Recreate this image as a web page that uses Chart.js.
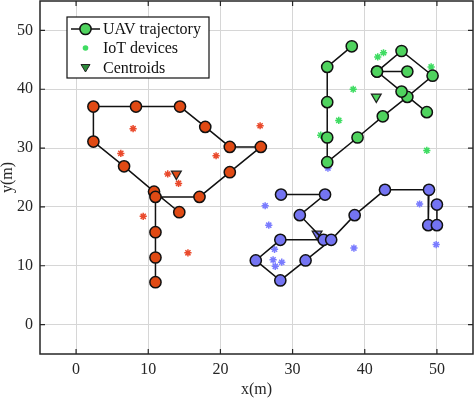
<!DOCTYPE html>
<html>
<head>
<meta charset="utf-8">
<script src="https://cdn.jsdelivr.net/npm/chart.js@4/dist/chart.umd.min.js"></script>
<style>
  html, body { margin: 0; padding: 0; background: #fff; }
  #grafico { display: block; }
</style>
</head>
<body>
<canvas id="grafico" width="474" height="399"></canvas>
<script>
// tick values
const xTicks = [0, 10, 20, 30, 40, 50];
const yTicks = [0, 10, 20, 30, 40, 50];

// cluster 1 (red)
const redPathX = [14.3, 10.8, 6.65, 2.4, 2.4, 8.3, 14.4, 17.9, 21.3, 25.6, 21.3, 17.1, 11.0, 11.0, 11.0, 11.0];
const redPathY = [19.1, 22.6, 26.9, 31.1, 37.05, 37.05, 37.05, 33.6, 30.2, 30.2, 25.9, 21.7, 21.7, 15.7, 11.4, 7.2];
const redIotX = [7.9, 6.2, 19.4, 25.5, 12.7, 14.2, 9.3, 15.5];
const redIotY = [33.3, 29.1, 28.7, 33.8, 25.6, 24.0, 18.4, 12.2];
const redCentroid = [13.9, 25.6];

// cluster 2 (green)
const greenPathX = [38.2, 34.8, 34.8, 34.8, 34.8, 39.0, 42.5, 45.9, 49.4, 45.1, 41.7, 45.9, 41.7, 45.1, 48.6];
const greenPathY = [47.3, 43.8, 37.8, 31.8, 27.6, 31.8, 35.4, 38.7, 42.3, 46.5, 43.0, 43.0, 43.0, 39.6, 36.1];
const greenIotX = [41.8, 42.6, 49.2, 38.4, 36.4, 33.9, 48.6];
const greenIotY = [45.5, 46.2, 43.8, 40.0, 34.7, 32.2, 29.6];
const greenCentroid = [41.6, 38.7];

// cluster 3 (blue)
const bluePathX = [28.4, 34.5, 31.0, 34.3, 28.3, 24.9, 28.3, 31.8, 35.35, 38.6, 42.8, 48.9, 48.8, 50.0, 50.0];
const bluePathY = [22.1, 22.1, 18.6, 14.4, 14.4, 10.9, 7.5, 10.9, 14.4, 18.6, 22.9, 22.9, 16.9, 16.9, 20.4];
const blueIotX = [34.9, 26.2, 26.7, 27.5, 27.3, 27.6, 28.5, 38.5, 47.6, 49.9];
const blueIotY = [26.6, 20.2, 16.9, 12.8, 11.0, 9.9, 10.6, 13.0, 20.5, 13.6];
const blueCentroid = [33.4, 15.4];

const legendLabels = ["UAV trajectory", "IoT devices", "Centroids"];

const corVermelho = "#e04a14";
const corVerde = "#4fd35e";
const corAzul = "#7474f2";
const estrelaVermelha = "#ea4a2c";
const estrelaVerde = "#3fdc62";
const estrelaAzul = "#7a7cff";
const fonte = "'Liberation Serif', 'DejaVu Serif', serif";

function pontos(xs, ys) {
  return xs.map((x, i) => ({ x: x, y: ys[i] }));
}

function trajeto(xs, ys, cor) {
  return {
    data: pontos(xs, ys),
    showLine: true,
    borderColor: "#111",
    borderWidth: 1.5,
    pointRadius: 5.6,
    pointBackgroundColor: cor,
    pointBorderColor: "#111",
    pointBorderWidth: 1.5
  };
}

function dispositivos(xs, ys, cor) {
  return {
    data: pontos(xs, ys),
    showLine: false,
    pointStyle: "star",
    pointRadius: 3.6,
    pointBorderColor: cor,
    pointBackgroundColor: cor,
    pointBorderWidth: 1.5
  };
}

function centroide(c, cor) {
  return {
    data: [{ x: c[0], y: c[1] }],
    showLine: false,
    pointStyle: "triangle",
    rotation: 180,
    pointRadius: 5.6,
    pointBackgroundColor: cor,
    pointBorderColor: "#222",
    pointBorderWidth: 1.3
  };
}

// moldura, ticks internos e legenda
const molduraPlugin = {
  id: "moldura",
  afterDraw(chart) {
    const ctx = chart.ctx;
    const a = chart.chartArea;
    const sx = chart.scales.x, sy = chart.scales.y;
    ctx.save();
    ctx.strokeStyle = "#262626";
    ctx.lineWidth = 1.5;
    ctx.strokeRect(a.left, a.top, a.right - a.left, a.bottom - a.top);
    ctx.lineWidth = 1.2;
    ctx.beginPath();
    xTicks.forEach(v => {
      const px = sx.getPixelForValue(v);
      ctx.moveTo(px, a.bottom); ctx.lineTo(px, a.bottom - 5);
      ctx.moveTo(px, a.top); ctx.lineTo(px, a.top + 5);
    });
    yTicks.forEach(v => {
      const py = sy.getPixelForValue(v);
      ctx.moveTo(a.left, py); ctx.lineTo(a.left + 5, py);
      ctx.moveTo(a.right, py); ctx.lineTo(a.right - 5, py);
    });
    ctx.stroke();

    // legenda
    const lx = 67, ly = 17, lw = 142, lh = 61;
    ctx.fillStyle = "#fff";
    ctx.fillRect(lx, ly, lw, lh);
    ctx.strokeStyle = "#111";
    ctx.lineWidth = 1.2;
    ctx.strokeRect(lx, ly, lw, lh);

    const rows = [29, 48, 68];
    ctx.lineWidth = 1.5;
    ctx.beginPath();
    ctx.moveTo(71, rows[0]); ctx.lineTo(100, rows[0]);
    ctx.stroke();
    ctx.beginPath();
    ctx.arc(85.5, rows[0], 5.6, 0, Math.PI * 2);
    ctx.fillStyle = corVerde; ctx.fill(); ctx.stroke();

    ctx.beginPath();
    ctx.arc(85.5, rows[1], 2.8, 0, Math.PI * 2);
    ctx.fillStyle = estrelaVerde; ctx.fill();

    ctx.beginPath();
    ctx.moveTo(81, rows[2] - 3.5); ctx.lineTo(90, rows[2] - 3.5); ctx.lineTo(85.5, rows[2] + 4);
    ctx.closePath();
    ctx.fillStyle = "#2e8b3c"; ctx.fill();
    ctx.lineWidth = 1; ctx.strokeStyle = "#222"; ctx.stroke();

    ctx.fillStyle = "#111";
    ctx.font = "16px " + fonte;
    ctx.textBaseline = "middle";
    ctx.textAlign = "left";
    legendLabels.forEach((t, i) => ctx.fillText(t, 103, rows[i] + 1));
    ctx.restore();
  }
};

new Chart(document.getElementById("grafico").getContext("2d"), {
  type: "scatter",
  data: {
    datasets: [
      trajeto(redPathX, redPathY, corVermelho),
      trajeto(greenPathX, greenPathY, corVerde),
      trajeto(bluePathX, bluePathY, corAzul),
      centroide(redCentroid, corVermelho),
      centroide(greenCentroid, corVerde),
      centroide(blueCentroid, corAzul),
      dispositivos(redIotX, redIotY, estrelaVermelha),
      dispositivos(greenIotX, greenIotY, estrelaVerde),
      dispositivos(blueIotX, blueIotY, estrelaAzul)
    ]
  },
  options: {
    responsive: false,
    animation: false,
    layout: { autoPadding: false, padding: { top: 1, right: 1, left: 0, bottom: 0 } },
    plugins: { legend: { display: false }, tooltip: { enabled: false } },
    scales: {
      x: {
        type: "linear",
        min: -5, max: 55,
        afterBuildTicks: s => { s.ticks = xTicks.map(v => ({ value: v })); },
        afterFit: s => { s.height = 45; s.paddingLeft = 0; s.paddingRight = 0; },
        ticks: { font: { family: fonte, size: 16 }, color: "#262626", padding: 6, maxRotation: 0 },
        grid: { color: "#d6d6d6", lineWidth: 1, drawTicks: false },
        border: { display: false },
        title: { display: true, text: "x(m)", font: { family: fonte, size: 16 }, color: "#262626", padding: 0 }
      },
      y: {
        type: "linear",
        min: -5, max: 55,
        afterBuildTicks: s => { s.ticks = yTicks.map(v => ({ value: v })); },
        afterFit: s => { s.width = 40; s.paddingTop = 0; s.paddingBottom = 0; },
        ticks: { font: { family: fonte, size: 16 }, color: "#262626", padding: 7 },
        grid: { color: "#d6d6d6", lineWidth: 1, drawTicks: false },
        border: { display: false },
        title: { display: true, text: "y(m)", font: { family: fonte, size: 16, lineHeight: 1 }, color: "#262626", padding: 0 }
      }
    }
  },
  plugins: [molduraPlugin]
});
</script>
</body>
</html>
